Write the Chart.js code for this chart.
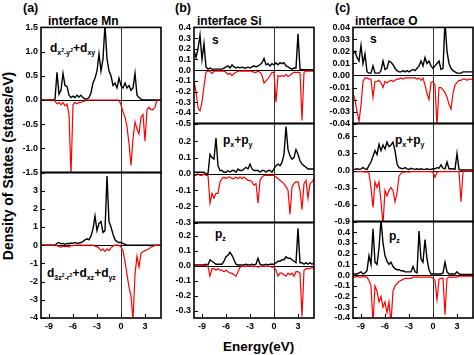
<!DOCTYPE html>
<html><head><meta charset="utf-8">
<script src="https://cdn.jsdelivr.net/npm/chart.js@4/dist/chart.umd.min.js"></script>
<style>
html,body{margin:0;padding:0;background:#fff;width:474px;height:355px;overflow:hidden;}
#wrap{position:relative;width:474px;height:355px;overflow:hidden;font-family:"Liberation Sans",Arial,sans-serif;font-weight:bold;color:#000;}
canvas{position:absolute;}
.t{position:absolute;white-space:nowrap;line-height:1;}
.lab{font-size:12px;}
.lab sub{font-size:7px;position:relative;top:3px;vertical-align:baseline;}
.lab sub sup{font-size:5px;position:relative;top:-3px;vertical-align:baseline;}
</style></head><body><div id="wrap">
<div class="t" style="left:23px;top:2px;font-size:12.5px">(a)</div>
<div class="t" style="left:48px;top:15px;font-size:12px">interface Mn</div>
<div class="t" style="left:175px;top:2px;font-size:12.5px">(b)</div>
<div class="t" style="left:197px;top:15px;font-size:12px">interface Si</div>
<div class="t" style="left:335px;top:2px;font-size:12.5px">(c)</div>
<div class="t" style="left:355px;top:15px;font-size:12px">interface O</div>
<div class="t lab" style="left:50px;top:42px">d<sub>x<sup>2</sup>-y<sup>2</sup></sub>+d<sub>xy</sub></div>
<div class="t lab" style="left:47px;top:267px">d<sub>3z<sup>2</sup>-r<sup>2</sup></sub>+d<sub>xz</sub>+d<sub>yz</sub></div>
<div class="t lab" style="left:212px;top:34px">s</div>
<div class="t lab" style="left:223px;top:134px">p<sub>x</sub>+p<sub>y</sub></div>
<div class="t lab" style="left:215px;top:228px">p<sub>z</sub></div>
<div class="t lab" style="left:370px;top:33px">s</div>
<div class="t lab" style="left:395px;top:134px">p<sub>x</sub>+p<sub>y</sub></div>
<div class="t lab" style="left:389px;top:230px">p<sub>z</sub></div>
<div class="t" style="left:8px;top:166px;font-size:14px;transform:translate(-50%,-50%) rotate(-90deg);">Density of States (states/eV)</div>
<div class="t" style="left:223px;top:340px;font-size:13.5px">Energy(eV)</div>
</div>
<script>
// ---------------- data ----------------
const energy = [-10,-9.75,-9.5,-9.25,-9,-8.75,-8.5,-8.25,-8,-7.75,-7.5,-7.25,-7,-6.75,-6.5,-6.25,-6,-5.75,-5.5,-5.25,-5,-4.75,-4.5,-4.25,-4,-3.75,-3.5,-3.25,-3,-2.75,-2.5,-2.25,-2,-1.75,-1.5,-1.25,-1,-0.75,-0.5,-0.25,0,0.25,0.5,0.75,1,1.25,1.5,1.75,2,2.25,2.5,2.75,3,3.25,3.5,3.75,4,4.25,4.5,4.75,5];

const mnDxyUp = [0,0,0,0, 0,0,0,0.02, 0.57,0.12,0.2,0.55, 0.3,0.28,0.1,0.05, 0.08,0.05,0.1,0.06, 0.1,0.05,0.02,0.02, 0.05,0.15,0.35,0.45, 0.6,0.95,0.6,0.85, 1.55,0.85,0.6,0.5, 0.3,0.35,0.25,0.45, 0.3,0.25,0.35,0.25, 0.3,0.2,0.25,0.55, 0.1,0.05,0.02,0, 0,0,0,0, 0,0,0,0, 0];
const mnDxyDn = [0,0,0,0, 0,0,0,-0.02, -0.08,-0.05,-0.1,-0.05, -0.12,-0.08,-0.3,-1.55, -0.1,-0.05,-0.08,-0.05, -0.05,-0.03,-0.02,0, 0,0,0,0, 0,0,0,0, 0,0,0,0, 0,0,0,0, -0.1,-0.25,-0.35,-0.55, -0.9,-1.35,-0.8,-0.45, -0.6,-0.7,-0.35,-0.3, -0.85,-0.2,-0.15,-0.2, -0.2,-0.15,0,0, 0];
const mnDzUp = [0,0,0,0, 0,0,0,0, 0.1,0.15,0.08,0.1, 0.05,0.1,0.08,0.12, 0.1,0.15,0.1,0.12, 0.15,0.2,0.3,0.35, 0.3,0.5,0.9,1.6, 0.8,1.2,1.3,0.7, 0.8,3.8,1.3,1.0, 0.6,0.3,0.2,0.15, 0.15,0.1,0.05,0, 0,0,0,0, 0,0,0,0, 0,0,0,0, 0,0,0,0, 0];
const mnDzDn = [0,0,0,0, 0,0,0,0, -0.02,-0.08,-0.1,-0.05, -0.08,-0.05,-0.1,-0.02, -0.03,0,0,0, 0,0,0,0, 0,0,0,-0.05, -0.08,-0.15,-0.3,-0.2, -0.35,-0.2,-0.3,-0.15, -0.05,0,0,0, -0.1,-0.3,-0.9,-1.6, -2.3,-2.8,-4.1,-1.6, -0.6,-1.2,-0.45,-0.35, -0.3,-0.25,-0.2,-0.1, -0.05,-0.03,0,0, 0];

const siSUp = [0.18,0.12,0.2,0.33, 0.1,0.25,0.03,0.01, 0.02,0.01,0.01,0.01, 0.01,0.01,0.01,0.02, 0.03,0.04,0.02,0.05, 0.03,0.02,0.03,0.02, 0.03,0.02,0.02,0.03, 0.02,0.03,0.04,0.03, 0.04,0.05,0.07,0.11, 0.05,0.06,0.04,0.06, 0.05,0.07,0.05,0.07, 0.06,0.07,0.04,0.03, 0.02,0.01,0.02,0.02, 0.34,0.01,0.005,0.005, 0.005,0.005,0.005,0.005, 0.005];
const siSDn = [-0.1,-0.2,-0.35,-0.38, -0.3,-0.15,-0.02,-0.01, -0.01,-0.03,-0.01,-0.01, -0.01,-0.01,-0.01,-0.01, -0.02,-0.04,-0.03,-0.05, -0.03,-0.02,-0.01,-0.01, -0.01,-0.01,-0.01,-0.01, -0.01,-0.01,-0.02,-0.02, -0.01,-0.02,-0.05,-0.12, -0.1,-0.08,-0.05,-0.02, -0.02,-0.3,-0.05,-0.06, -0.05,-0.06,-0.04,-0.06, -0.05,-0.03,-0.02,-0.02, -0.02,-0.02,-0.47,-0.02, -0.01,-0.01,-0.01,-0.01, -0.01];
const siPxyUp = [0.01,0.01,0.01,0.01, 0.01,0.01,0,0, 0.12,0.1,0.09,0.22, 0.05,0.02,0.02,0.01, 0.01,0.02,0.01,0.02, 0.02,0.01,0.03,0.02, 0.02,0.03,0.04,0.03, 0.06,0.03,0.02,0.02, 0.02,0.01,0.02,0.02, 0.01,0.02,0.02,0.01, 0.03,0.05,0.06,0.05, 0.07,0.12,0.29,0.15, 0.11,0.09,0.1,0.15, 0.12,0.08,0.06,0.05, 0.04,0.03,0.03,0.03, 0.03];
const siPxyDn = [-0.01,-0.01,0,-0.01, -0.01,0,-0.01,-0.01, -0.18,-0.12,-0.15,-0.12, -0.12,-0.05,-0.03,-0.02, -0.03,-0.02,-0.02,-0.03, -0.03,-0.02,-0.03,-0.02, -0.03,-0.02,-0.03,-0.04, -0.04,-0.05,-0.07,-0.06, -0.18,-0.04,-0.02,-0.01, -0.01,-0.01,-0.01,-0.01, -0.01,-0.02,-0.03,-0.04, -0.05,-0.06,-0.08,-0.1, -0.25,-0.08,-0.06,-0.05, -0.05,-0.1,-0.22,-0.06, -0.04,-0.15,-0.06,-0.05, -0.03];
const siPzUp = [0.005,0.005,0.005,0.005, 0.005,0.005,0.01,0.005, 0.04,0.03,0.02,0.01, 0.01,0.01,0.01,0.03, 0.06,0.07,0.09,0.07, 0.04,0.01,0.005,0.005, 0.005,0.005,0.01,0.005, 0.005,0.01,0.005,0.01, 0.05,0.01,0.005,0.005, 0.01,0.005,0.01,0.01, 0.01,0.02,0.03,0.03, 0.04,0.04,0.06,0.05, 0.05,0.04,0.03,0.02, 0.25,0.02,0.02,0.01, 0.02,0.01,0.02,0.01, 0.02];
const siPzDn = [0,0,0,0, 0,0,0,-0.005, -0.07,-0.02,-0.02,-0.03, -0.02,-0.03,-0.03,-0.04, -0.03,-0.04,-0.05,-0.05, -0.06,-0.07,-0.04,-0.01, -0.005,-0.005,-0.005,-0.005, -0.005,-0.005,-0.005,-0.005, -0.01,-0.005,-0.005,-0.005, -0.005,-0.005,-0.005,-0.01, -0.01,-0.03,-0.07,-0.05, -0.05,-0.06,-0.07,-0.05, -0.06,-0.05,-0.07,-0.04, -0.04,-0.05,-0.34,-0.03, -0.02,-0.02,-0.02,-0.01, -0.02];

const oSUp = [0.018,0.02,0.015,0.012, 0.025,0.01,0.018,0.003, 0.002,0.002,0.008,0.002, 0.002,0.002,0.004,0.012, 0.005,0.006,0.012,0.011, 0.009,0.006,0.004,0.003, 0.003,0.004,0.003,0.004, 0.003,0.004,0.005,0.004, 0.006,0.008,0.012,0.008, 0.015,0.01,0.012,0.008, 0.006,0.008,0.01,0.012, 0.005,0.006,0.045,0.02, 0.01,0.006,0.004,0.003, 0.002,0.002,0.002,0.003, 0.003,0.003,0.003,0.003, 0.003];
const oSDn = [-0.015,-0.02,-0.03,-0.038, -0.025,-0.005,-0.002,-0.002, -0.003,-0.003,-0.018,-0.005, -0.005,-0.004,-0.006,-0.01, -0.005,-0.006,-0.005,-0.004, -0.005,-0.004,-0.003,-0.003, -0.002,-0.003,-0.002,-0.002, -0.002,-0.002,-0.002,-0.002, -0.003,-0.002,-0.004,-0.002, -0.008,-0.015,-0.02,-0.006, -0.005,-0.008,-0.042,-0.01, -0.01,-0.012,-0.014,-0.018, -0.024,-0.028,-0.015,-0.008, -0.006,-0.004,-0.004,-0.003, -0.003,-0.004,-0.003,-0.003, -0.003];
const oPxyUp = [0.02,0.02,0.03,0.02, 0.03,0.05,0.03,0.02, 0.09,0.15,0.25,0.35, 0.28,0.46,0.35,0.45, 0.38,0.5,0.42,0.45, 0.5,0.35,0.12,0.05, 0.04,0.03,0.05,0.03, 0.02,0.04,0.03,0.02, 0.03,0.02,0.03,0.02, 0.02,0.03,0.02,0.02, 0.03,0.03,0.05,0.04, 0.1,0.04,0.03,0.15, 0.03,0.03,0.03,0.02, 0.3,0.02,0.01,0.01, 0.01,0.01,0.01,0.01, 0.01];
const oPxyDn = [-0.02,-0.02,-0.02,-0.02, -0.02,-0.02,-0.03,-0.02, -0.05,-0.3,-0.65,-0.2, -0.3,-0.2,-0.55,-0.95, -0.35,-0.45,-0.35,-0.3, -0.35,-0.55,-0.4,-0.1, -0.05,-0.03,-0.03,-0.02, -0.03,-0.02,-0.02,-0.02, -0.02,-0.02,-0.02,-0.02, -0.02,-0.02,-0.02,-0.02, -0.03,-0.12,-0.03,-0.02, -0.02,-0.02,-0.02,-0.02, -0.02,-0.02,-0.02,-0.02, -0.02,-0.02,-0.55,-0.02, -0.01,-0.01,-0.01,-0.01, -0.01];
const oPzUp = [0.01,0.01,0.01,0.02, 0.03,0.01,0.02,0.04, 0.18,0.1,0.43,0.12, 0.1,0.25,0.52,0.3, 0.18,0.13,0.1,0.12, 0.08,0.06,0.05,0.05, 0.04,0.04,0.03,0.03, 0.03,0.03,0.08,0.03, 0.02,0.41,0.15,0.12, 0.33,0.15,0.05,0.01, 0.01,0.01,0.01,0.01, 0.01,0.02,0.12,0.03, 0.01,0.01,0.01,0.01, 0.03,0.01,0.005,0.005, 0.005,0.005,0.005,0.005, 0.005];
const oPzDn = [-0.01,-0.02,-0.01,-0.02, -0.02,-0.01,-0.02,-0.02, -0.05,-0.1,-0.45,-0.1, -0.15,-0.25,-0.2,-0.3, -0.25,-0.35,-0.25,-0.45, -0.15,-0.1,-0.08,-0.06, -0.05,-0.04,-0.03,-0.03, -0.03,-0.03,-0.02,-0.02, -0.02,-0.02,-0.02,-0.02, -0.02,-0.02,-0.02,-0.02, -0.03,-0.05,-0.23,-0.04, -0.03,-0.03,-0.37,-0.03, -0.02,-0.02,-0.02,-0.02, -0.02,-0.01,-0.01,-0.01, -0.01,-0.01,-0.01,-0.01, -0.01];

// tick labels
const xTicks = [-9,-6,-3,0,3];
const mnDxyTicks = [1.5,1.0,0.5,0,-0.5,-1.0,-1.5];
const mnDzTicks = [3,2,1,0,-1,-2,-3,-4];
const siSTicks = [0.4,0.3,0.2,0.1,0,-0.1,-0.2,-0.3,-0.4,-0.5];
const siPxyTicks = [0.2,0.1,0,-0.1,-0.2,-0.3];
const siPzTicks = [0.2,0.1,0,-0.1,-0.2,-0.3];
const oSTicks = [0.04,0.03,0.02,0.01,0,-0.01,-0.02,-0.03,-0.04];
const oPxyTicks = [0.6,0.3,0,-0.3,-0.6,-0.9];
const oPzTicks = [0.4,0.3,0.2,0.1,0,-0.1,-0.2,-0.3,-0.4];

// ---------------- layout ----------------
const PADL = 2, PADR = 4, PADT = 8, PADB = 8, YW = 34, XH = 16;
const panels = [
  {l:41, r:161, t:27,  b:172, min:-1.5, max:1.5,  up:mnDxyUp, dn:mnDxyDn, ticks:mnDxyTicks, dec:1, showX:false},
  {l:41, r:161, t:172, b:318, min:-4,   max:4,    up:mnDzUp,  dn:mnDzDn,  ticks:mnDzTicks,  dec:0, showX:true},
  {l:194, r:314, t:27,  b:123, min:-0.5, max:0.4,  up:siSUp,   dn:siSDn,   ticks:siSTicks,   dec:1, showX:false},
  {l:194, r:314, t:123, b:222, min:-0.3, max:0.31, up:siPxyUp, dn:siPxyDn, ticks:siPxyTicks, dec:1, showX:false},
  {l:194, r:314, t:222, b:318, min:-0.35,max:0.29, up:siPzUp,  dn:siPzDn,  ticks:siPzTicks,  dec:1, showX:true},
  {l:353, r:473, t:27,  b:123, min:-0.04,max:0.04, up:oSUp,    dn:oSDn,    ticks:oSTicks,    dec:2, showX:false},
  {l:353, r:473, t:123, b:221, min:-0.9, max:0.83, up:oPxyUp,  dn:oPxyDn,  ticks:oPxyTicks,  dec:1, showX:false},
  {l:353, r:473, t:221, b:318, min:-0.4, max:0.5,  up:oPzUp,   dn:oPzDn,   ticks:oPzTicks,   dec:1, showX:true}
];

const framePlugin = {
  id: 'dosFrame',
  beforeDatasetsDraw(chart) {
    const {ctx, chartArea: a, scales} = chart;
    const x = scales.x, y = scales.y;
    ctx.save();
    ctx.lineWidth = 1;
    ctx.strokeStyle = '#000';
    const y0 = Math.round(y.getPixelForValue(0)) + 0.5;
    ctx.beginPath(); ctx.moveTo(a.left, y0); ctx.lineTo(a.right, y0); ctx.stroke();
    ctx.strokeStyle = '#333';
    const x0 = Math.round(x.getPixelForValue(0)) + 0.5;
    ctx.beginPath(); ctx.moveTo(x0, a.top); ctx.lineTo(x0, a.bottom); ctx.stroke();
    ctx.restore();
  },
  afterDatasetsDraw(chart) {
    const {ctx, chartArea: a, scales} = chart;
    const x = scales.x, y = scales.y;
    ctx.save();
    ctx.strokeStyle = '#000';
    ctx.lineWidth = 1;
    y.ticks.forEach(t => {
      const py = Math.round(y.getPixelForValue(t.value)) + 0.5;
      ctx.beginPath(); ctx.moveTo(a.left, py); ctx.lineTo(a.left + 4, py); ctx.stroke();
    });
    if (chart.options.scales.x.display) {
      x.ticks.forEach(t => {
        const px = Math.round(x.getPixelForValue(t.value)) + 0.5;
        ctx.beginPath(); ctx.moveTo(px, a.bottom); ctx.lineTo(px, a.bottom - 4); ctx.stroke();
      });
    }
    ctx.lineWidth = 1.6;
    ctx.strokeRect(a.left, a.top, a.right - a.left, a.bottom - a.top);
    ctx.restore();
  }
};

const wrap = document.getElementById('wrap');
const tickFont = {family: '"Liberation Sans", Arial, sans-serif', size: 9, weight: 'bold'};

panels.forEach(p => {
  const c = document.createElement('canvas');
  const W = (p.r - p.l) + YW + PADL + PADR;
  const H = (p.b - p.t) + PADT + PADB + (p.showX ? XH : 0);
  c.width = W; c.height = H;
  c.style.width = W + 'px'; c.style.height = H + 'px';
  c.style.left = (p.l - YW - PADL) + 'px';
  c.style.top = (p.t - PADT) + 'px';
  wrap.appendChild(c);
  const pts = arr => energy.map((e, i) => ({x: e, y: arr[i]}));
  const chart = new Chart(c, {
    type: 'line',
    data: {
      datasets: [
        {data: pts(p.dn), borderColor: '#ff0000', borderWidth: 1.2, pointRadius: 0, tension: 0, fill: false},
        {data: pts(p.up), borderColor: '#000000', borderWidth: 1.4, pointRadius: 0, tension: 0, fill: false}
      ]
    },
    options: {
      responsive: false,
      maintainAspectRatio: false,
      devicePixelRatio: 1,
      animation: false,
      events: [],
      layout: {padding: {left: PADL, right: PADR, top: PADT, bottom: PADB}},
      plugins: {legend: {display: false}, tooltip: {enabled: false}, title: {display: false}},
      scales: {
        x: {
          type: 'linear', min: -10, max: 5, display: p.showX,
          grid: {display: false, drawTicks: false}, border: {display: false},
          afterBuildTicks: s => { s.ticks = xTicks.map(v => ({value: v})); },
          afterFit: s => { s.height = p.showX ? XH : 0; },
          ticks: {font: tickFont, color: '#000', padding: 3, autoSkip: false, maxRotation: 0,
                  callback: v => String(v)}
        },
        y: {
          type: 'linear', min: p.min, max: p.max,
          grid: {display: false, drawTicks: false}, border: {display: false},
          afterBuildTicks: s => { s.ticks = p.ticks.map(v => ({value: v})); },
          afterFit: s => { s.width = YW; },
          ticks: {font: tickFont, color: '#000', padding: 3, autoSkip: false,
                  callback: v => Number(v).toFixed(p.dec)}
        }
      }
    },
    plugins: [framePlugin]
  });
  // make the plot area exactly the wanted size, then place it
  for (let k = 0; k < 3; k++) {
    const ca = chart.chartArea;
    const dw = (p.r - p.l) - (ca.right - ca.left);
    const dh = (p.b - p.t) - (ca.bottom - ca.top);
    if (Math.abs(dw) < 0.5 && Math.abs(dh) < 0.5) break;
    chart.resize(Math.round(chart.width + dw), Math.round(chart.height + dh));
  }
  const ca = chart.chartArea;
  c.style.left = (p.l - ca.left) + 'px';
  c.style.top = (p.t - ca.top) + 'px';
});
</script>
</body></html>
